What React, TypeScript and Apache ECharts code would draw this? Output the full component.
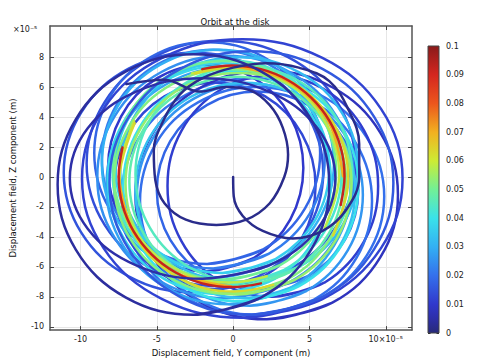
import React, { useEffect, useRef } from "react";
import * as echarts from "echarts";

// ---------- data ----------
const xTickValues = [-10, -5, 0, 5, 10];
const yTickValues = [-10, -8, -6, -4, -2, 0, 2, 4, 6, 8];

// orbit pieces: [Y, Z] in units of 1e-5 m
const blueLoop4 = [[1.6,-7.5],[4.9,-6.62],[7.32,-4.2],[8.2,-0.9],[7.32,2.4],[4.9,4.82],[1.6,5.7],[-1.7,4.82],[-4.12,2.4],[-5.0,-0.9],[-4.12,-4.2],[-1.7,-6.62],[1.6,-7.5],[4.9,-6.62]];
const blueLoop6 = [[1.3,-9.2],[5.6,-8.14],[8.75,-5.25],[9.9,-1.3],[8.75,2.65],[5.6,5.54],[1.3,6.6],[-3.0,5.54],[-6.15,2.65],[-7.3,-1.3],[-6.15,-5.25],[-3.0,-8.14],[1.3,-9.2],[5.6,-8.14]];
const blueLoop10 = [[-1.2,-7.5],[2.1,-6.58],[4.52,-4.05],[5.4,-0.6],[4.52,2.85],[2.1,5.38],[-1.2,6.3],[-4.5,5.38],[-6.92,2.85],[-7.8,-0.6],[-6.92,-4.05],[-4.5,-6.58],[-1.2,-7.5],[2.1,-6.58]];
const blueLoop5 = [[-0.8,-7.3],[3.6,-6.2],[6.82,-3.2],[8.0,0.9],[6.82,5.0],[3.6,8.0],[-0.8,9.1],[-5.2,8.0],[-8.42,5.0],[-9.6,0.9],[-8.42,-3.2],[-5.2,-6.2],[-0.8,-7.3],[3.6,-6.2]];
const blueLoop3 = [[-1.8,-6.3],[1.4,-5.38],[3.74,-2.85],[4.6,0.6],[3.74,4.05],[1.4,6.58],[-1.8,7.5],[-5.0,6.58],[-7.34,4.05],[-8.2,0.6],[-7.34,-2.85],[-5.0,-5.38],[-1.8,-6.3],[1.4,-5.38]];
const blueLoop7 = [[2.2,-9.5],[6.5,-8.39],[9.65,-5.35],[10.8,-1.2],[9.65,2.95],[6.5,5.99],[2.2,7.1],[-2.1,5.99],[-5.25,2.95],[-6.4,-1.2],[-5.25,-5.35],[-2.1,-8.39],[2.2,-9.5],[6.5,-8.39]];
const blueLoop8 = [[-2.6,-7.7],[1.65,-6.63],[4.76,-3.7],[5.9,0.3],[4.76,4.3],[1.65,7.23],[-2.6,8.3],[-6.85,7.23],[-9.96,4.3],[-11.1,0.3],[-9.96,-3.7],[-6.85,-6.63],[-2.6,-7.7],[1.65,-6.63]];
const blueLoop9 = [[2.6,-8.0],[6.05,-7.01],[8.58,-4.3],[9.5,-0.6],[8.58,3.1],[6.05,5.81],[2.6,6.8],[-0.85,5.81],[-3.38,3.1],[-4.3,-0.6],[-3.38,-4.3],[-0.85,-7.01],[2.6,-8.0],[6.05,-7.01]];
const bandLoopA = [[-1.7,-5.8],[2.0,-4.81],[4.71,-2.1],[5.7,1.6],[4.71,5.3],[2.0,8.01],[-1.7,9.0],[-5.4,8.01],[-8.11,5.3],[-9.1,1.6],[-8.11,-2.1],[-5.4,-4.81],[-1.7,-5.8],[2.0,-4.81]];
const bandLoopB = [[1.5,-9.2],[5.3,-8.18],[8.08,-5.4],[9.1,-1.6],[8.08,2.2],[5.3,4.98],[1.5,6.0],[-2.3,4.98],[-5.08,2.2],[-6.1,-1.6],[-5.08,-5.4],[-2.3,-8.18],[1.5,-9.2],[5.3,-8.18]];
const bandLoop1 = [[-1.3,-6.1],[2.35,-5.12],[5.02,-2.45],[6.0,1.2],[5.02,4.85],[2.35,7.52],[-1.3,8.5],[-4.95,7.52],[-7.62,4.85],[-8.6,1.2],[-7.62,-2.45],[-4.95,-5.12],[-1.3,-6.1],[2.35,-5.12]];
const bandLoopC5 = [[-0.5,-8.1],[3.7,-7.01],[6.77,-4.05],[7.9,0],[6.77,4.05],[3.7,7.01],[-0.5,8.1],[-4.7,7.01],[-7.77,4.05],[-8.9,0],[-7.77,-4.05],[-4.7,-7.01],[-0.5,-8.1],[3.7,-7.01]];
const bandLoop2 = [[1.1,-8.6],[4.8,-7.61],[7.51,-4.9],[8.5,-1.2],[7.51,2.5],[4.8,5.21],[1.1,6.2],[-2.6,5.21],[-5.31,2.5],[-6.3,-1.2],[-5.31,-4.9],[-2.6,-7.61],[1.1,-8.6],[4.8,-7.61]];
const bandLoopC1 = [[-0.3,-8.5],[3.7,-7.44],[6.63,-4.55],[7.7,-0.6],[6.63,3.35],[3.7,6.24],[-0.3,7.3],[-4.3,6.24],[-7.23,3.35],[-8.3,-0.6],[-7.23,-4.55],[-4.3,-7.44],[-0.3,-8.5],[3.7,-7.44]];
const bandLoop3 = [[-1.0,-6.7],[2.8,-5.68],[5.58,-2.9],[6.6,0.9],[5.58,4.7],[2.8,7.48],[-1.0,8.5],[-4.8,7.48],[-7.58,4.7],[-8.6,0.9],[-7.58,-2.9],[-4.8,-5.68],[-1.0,-6.7],[2.8,-5.68]];
const bandLoopC2 = [[0.4,-7.0],[4.3,-6.0],[7.15,-3.25],[8.2,0.5],[7.15,4.25],[4.3,7.0],[0.4,8.0],[-3.5,7.0],[-6.35,4.25],[-7.4,0.5],[-6.35,-3.25],[-3.5,-6.0],[0.4,-7.0],[4.3,-6.0]];
const bandLoop4 = [[0.8,-8.1],[4.4,-7.14],[7.04,-4.5],[8.0,-0.9],[7.04,2.7],[4.4,5.34],[0.8,6.3],[-2.8,5.34],[-5.44,2.7],[-6.4,-0.9],[-5.44,-4.5],[-2.8,-7.14],[0.8,-8.1],[4.4,-7.14]];
const bandLoop5 = [[-0.7,-6.4],[2.8,-5.46],[5.36,-2.9],[6.3,0.6],[5.36,4.1],[2.8,6.66],[-0.7,7.6],[-4.2,6.66],[-6.76,4.1],[-7.7,0.6],[-6.76,-2.9],[-4.2,-5.46],[-0.7,-6.4],[2.8,-5.46]];
const bandLoopC3 = [[-0.9,-7.8],[2.75,-6.78],[5.42,-4.0],[6.4,-0.2],[5.42,3.6],[2.75,6.38],[-0.9,7.4],[-4.55,6.38],[-7.22,3.6],[-8.2,-0.2],[-7.22,-4.0],[-4.55,-6.78],[-0.9,-7.8],[2.75,-6.78]];
const bandLoop6 = [[0.5,-8.3],[4.35,-7.27],[7.17,-4.45],[8.2,-0.6],[7.17,3.25],[4.35,6.07],[0.5,7.1],[-3.35,6.07],[-6.17,3.25],[-7.2,-0.6],[-6.17,-4.45],[-3.35,-7.27],[0.5,-8.3],[4.35,-7.27]];
const bandLoop7 = [[-0.4,-7.2],[3.35,-6.2],[6.1,-3.45],[7.1,0.3],[6.1,4.05],[3.35,6.8],[-0.4,7.8],[-4.15,6.8],[-6.9,4.05],[-7.9,0.3],[-6.9,-3.45],[-4.15,-6.2],[-0.4,-7.2],[3.35,-6.2]];
const bandLoopC4 = [[0.7,-7.0],[4.25,-6.04],[6.85,-3.4],[7.8,0.2],[6.85,3.8],[4.25,6.44],[0.7,7.4],[-2.85,6.44],[-5.45,3.8],[-6.4,0.2],[-5.45,-3.4],[-2.85,-6.04],[0.7,-7.0],[4.25,-6.04]];
const bandLoop8 = [[0.2,-7.3],[3.7,-6.36],[6.26,-3.8],[7.2,-0.3],[6.26,3.2],[3.7,5.76],[0.2,6.7],[-3.3,5.76],[-5.86,3.2],[-6.8,-0.3],[-5.86,-3.8],[-3.3,-6.36],[0.2,-7.3],[3.7,-6.36]];
const bandLoop9 = [[-0.55,-6.85],[3.1,-5.87],[5.77,-3.2],[6.75,0.45],[5.77,4.1],[3.1,6.77],[-0.55,7.75],[-4.2,6.77],[-6.87,4.1],[-7.85,0.45],[-6.87,-3.2],[-4.2,-5.87],[-0.55,-6.85],[3.1,-5.87]];
const bandLoopC6 = [[-0.2,-7.8],[3.6,-6.8],[6.38,-4.05],[7.4,-0.3],[6.38,3.45],[3.6,6.2],[-0.2,7.2],[-4.0,6.2],[-6.78,3.45],[-7.8,-0.3],[-6.78,-4.05],[-4.0,-6.8],[-0.2,-7.8],[3.6,-6.8]];
const bandLoop10 = [[0.35,-7.85],[4.05,-6.86],[6.76,-4.15],[7.75,-0.45],[6.76,3.25],[4.05,5.96],[0.35,6.95],[-3.35,5.96],[-6.06,3.25],[-7.05,-0.45],[-6.06,-4.15],[-3.35,-6.86],[0.35,-7.85],[4.05,-6.86]];
const arc11NE = [[5.99,-3.45],[6.95,0.15],[5.99,3.75],[3.35,6.39],[-0.25,7.35],[-2.71,6.92]];
const arc11SW = [[-6.49,3.75],[-7.45,0.15],[-6.49,-3.45],[-3.85,-6.09],[-0.25,-7.05],[2.21,-6.62]];
const arc12NE = [[6.55,-3.9],[7.55,-0.15],[6.55,3.6],[3.8,6.35],[0.05,7.35],[-2.52,6.9]];
const arc12SW = [[-6.45,3.6],[-7.45,-0.15],[-6.45,-3.9],[-3.7,-6.65],[0.05,-7.65],[2.62,-7.2]];
const arc13NE = [[7.2,0.05],[6.22,3.73],[3.53,6.42],[-0.15,7.4]];
const arc13SW = [[-7.5,0.05],[-6.52,-3.63],[-3.83,-6.32],[-0.15,-7.3]];
const redArcSW = [[-7.25,1.97],[-7.5,0.05],[-7.25,-1.87],[-6.51,-3.65],[-5.33,-5.18],[-3.8,-6.36],[-2.02,-7.1],[-0.1,-7.35],[1.82,-7.1]];
const redArcNE = [[7.05,-1.87],[7.3,0.05],[7.05,1.97],[6.31,3.75],[5.13,5.28],[3.6,6.46],[1.82,7.2],[-0.1,7.45],[-2.02,7.2]];
const blueLoop1 = [[0.6,-9.4],[5.85,-8.15],[9.69,-4.75],[11.1,-0.1],[9.69,4.55],[5.85,7.95],[0.6,9.2],[-4.65,7.95],[-8.49,4.55],[-9.9,-0.1],[-8.49,-4.75],[-4.65,-8.15],[0.6,-9.4],[5.85,-8.15]];
const blueLoop2 = [[1.2,-9.2],[5.85,-8.02],[9.25,-4.8],[10.5,-0.4],[9.25,4.0],[5.85,7.22],[1.2,8.4],[-3.45,7.22],[-6.85,4.0],[-8.1,-0.4],[-6.85,-4.8],[-3.45,-8.02],[1.2,-9.2],[5.85,-8.02]];
const navyLoopB = [[-2.0,-6.8],[2.35,-5.9],[5.53,-3.45],[6.7,-0.1],[5.53,3.25],[2.35,5.7],[-2.0,6.6],[-6.35,5.7],[-9.53,3.25],[-10.7,-0.1],[-9.53,-3.45],[-6.35,-5.9],[-2.0,-6.8],[2.35,-5.9]];
const navyLoopA = [[-2.6,-9.2],[1.85,-8.03],[5.11,-4.85],[6.3,-0.5],[5.11,3.85],[1.85,7.03],[-2.6,8.2],[-7.05,7.03],[-10.31,3.85],[-11.5,-0.5],[-10.31,-4.85],[-7.05,-8.03],[-2.6,-9.2],[1.85,-8.03]];
const startPath = [[0,0],[0.04,-1.3],[0.63,-2.6],[1.94,-3.6],[3.9,-4.1],[5.86,-3.6],[7.4,-2.2],[8.26,0],[8.26,2.2],[7.6,4.4],[6.3,6.4],[4.3,7.3],[2.2,7.6],[0,7.3],[-2.0,6.6],[-3.5,5.5],[-4.6,3.7],[-5.2,1.75],[-5.1,-0.2],[-4.5,-1.75],[-3.1,-2.85],[-1.1,-3.2],[0.85,-2.85],[2.4,-1.75],[3.35,0],[3.6,1.5],[3.25,3.3],[2.4,4.8],[1.07,5.8],[-0.46,6.0],[-2.2,5.7],[-4.5,6.5],[-7.0,6.2]];

const orbitPieces = [
  blueLoop4, blueLoop6, blueLoop10, blueLoop5, blueLoop3, blueLoop7, blueLoop8, blueLoop9,
  bandLoopA, bandLoopB, bandLoop1, bandLoopC5, bandLoop2, bandLoopC1, bandLoop3, bandLoopC2,
  bandLoop4, bandLoop5, bandLoopC3, bandLoop6, bandLoop7, bandLoopC4, bandLoop8, bandLoop9,
  bandLoopC6, bandLoop10,
  arc11NE, arc11SW, arc12NE, arc12SW, arc13NE, arc13SW,
  redArcSW, redArcNE,
  blueLoop1, blueLoop2,
  navyLoopB, navyLoopA, startPath,
];
const orbitValues = [
  0.018, 0.02, 0.013, 0.014, 0.01, 0.008, 0.015, 0.011,
  0.018, 0.02, 0.022, 0.025, 0.026, 0.028, 0.03, 0.032,
  0.033, 0.036, 0.038, 0.04, 0.043, 0.045, 0.047, 0.05,
  0.052, 0.054,
  0.058, 0.058, 0.063, 0.063, 0.07, 0.07,
  0.092, 0.092,
  0.012, 0.016,
  0.005, 0.004, 0.002,
];

// ---------- style ----------
const FONT = "DejaVu Sans";
const rainbowStops: [number, string][] = [
  [0.0, "#282a78"],
  [0.05, "#2d2fa8"],
  [0.1, "#3038cc"],
  [0.2, "#3470ec"],
  [0.3, "#33b0f4"],
  [0.4, "#3ae2ea"],
  [0.5, "#72f096"],
  [0.6, "#cdeb34"],
  [0.7, "#f2b020"],
  [0.8, "#ec561c"],
  [0.9, "#d4261f"],
  [1.0, "#8a1a1a"],
];

function hexToRgb(h: string) {
  const n = parseInt(h.slice(1), 16);
  return [(n >> 16) & 255, (n >> 8) & 255, n & 255];
}
function colorAt(v: number) {
  const t = Math.max(0, Math.min(1, v / 0.1));
  for (let i = 0; i < rainbowStops.length - 1; i++) {
    const [t0, c0] = rainbowStops[i];
    const [t1, c1] = rainbowStops[i + 1];
    if (t >= t0 && t <= t1) {
      const f = (t - t0) / (t1 - t0);
      const a = hexToRgb(c0);
      const b = hexToRgb(c1);
      const r = a.map((x, k) => Math.round(x + (b[k] - x) * f));
      return `rgb(${r[0]},${r[1]},${r[2]})`;
    }
  }
  return rainbowStops[rainbowStops.length - 1][1];
}

export default function App() {
  const ref = useRef<HTMLDivElement>(null);
  useEffect(() => {
    if (!ref.current) return;
    const chart = echarts.init(ref.current, undefined, { renderer: "svg" });
    const tickLabel = { fontSize: 8, color: "#222", fontFamily: FONT };
    const frame = { show: true, onZero: false, lineStyle: { color: "#555", width: 1.5 } };
    const orbitSeries = orbitPieces.map((pts, i) => ({
      type: "line",
      xAxisIndex: 0,
      yAxisIndex: 0,
      data: pts,
      smooth: 0.38,
      showSymbol: false,
      symbol: "none",
      silent: true,
      lineStyle: { color: colorAt(orbitValues[i]), width: 2.5, cap: "round" },
    }));
    chart.setOption({
      animation: false,
      backgroundColor: "#fff",
      title: {
        text: "Orbit at the disk",
        left: 230,
        top: 12.5,
        textAlign: "center",
        textStyle: { fontSize: 8.5, fontWeight: "normal", color: "#111", fontFamily: FONT },
      },
      grid: [
        { left: 49, top: 26, width: 363, height: 309 },
        { left: 428, top: 46, width: 11, height: 287 },
      ],
      xAxis: [
        {
          type: "value", gridIndex: 0, min: -12, max: 11.72, position: "bottom",
          axisLine: frame,
          axisTick: { show: true, inside: true, length: 4, customValues: xTickValues, lineStyle: { color: "#444" } },
          axisLabel: { ...tickLabel, customValues: xTickValues, margin: 5, formatter: (v: number) => (v === 10 ? "10×10⁻⁵" : String(v)) },
          splitLine: { show: true, lineStyle: { color: "#e6e6e6", width: 1 } },
          name: "Displacement field, Y component (m)",
          nameLocation: "middle", nameGap: 12,
          nameTextStyle: { fontSize: 8.5, color: "#111", fontFamily: FONT },
        },
        {
          type: "value", gridIndex: 0, min: -12, max: 11.72, position: "top",
          axisLine: frame,
          axisTick: { show: true, inside: true, length: 4, customValues: xTickValues, lineStyle: { color: "#444" } },
          axisLabel: { show: false },
          splitLine: { show: false },
        },
        { type: "category", gridIndex: 1, data: ["c"], show: false },
      ],
      yAxis: [
        {
          type: "value", gridIndex: 0, min: -10.22, max: 10.08, position: "left",
          axisLine: frame,
          axisTick: { show: true, inside: true, length: 4, customValues: yTickValues, lineStyle: { color: "#444" } },
          axisLabel: { ...tickLabel, customValues: yTickValues, margin: 6 },
          splitLine: { show: true, lineStyle: { color: "#e6e6e6", width: 1 } },
          name: "Displacement field, Z component (m)",
          nameLocation: "middle", nameGap: 33,
          nameTextStyle: { fontSize: 8.5, color: "#111", fontFamily: FONT },
        },
        {
          type: "value", gridIndex: 0, min: -10.22, max: 10.08, position: "right",
          axisLine: frame,
          axisTick: { show: true, inside: true, length: 4, customValues: yTickValues, lineStyle: { color: "#444" } },
          axisLabel: { show: false },
          splitLine: { show: false },
        },
        {
          type: "value", gridIndex: 1, min: 0, max: 0.1, interval: 0.01, position: "right",
          axisLine: { show: false },
          axisTick: { show: true, inside: true, length: 2.5, lineStyle: { color: "#222" } },
          axisLabel: { ...tickLabel, margin: 7, formatter: (v: number) => String(+v.toFixed(2)) },
          splitLine: { show: false },
        },
        {
          type: "value", gridIndex: 1, min: 0, max: 0.1, interval: 0.01, position: "left",
          axisLine: { show: false },
          axisTick: { show: true, inside: true, length: 2.5, lineStyle: { color: "#222" } },
          axisLabel: { show: false },
          splitLine: { show: false },
        },
      ],
      graphic: [
        {
          type: "text", left: 13, top: 25, z: 10,
          style: { text: "×10⁻⁵", fontSize: 8, fill: "#222", fontFamily: FONT },
        },
        {
          type: "rect", z: 100, silent: true,
          shape: { x: 428, y: 46, width: 11, height: 287 },
          style: { fill: "none", stroke: "#444", lineWidth: 1 },
        },
      ],
      series: [
        ...orbitSeries,
        {
          type: "bar",
          xAxisIndex: 2,
          yAxisIndex: 2,
          data: [0.1],
          barWidth: "100%",
          silent: true,
          z: 1,
          itemStyle: {
            color: new echarts.graphic.LinearGradient(0, 1, 0, 0,
              rainbowStops.map(([o, c]) => ({ offset: o, color: c }))),
          },
        },
      ],
    });
    return () => chart.dispose();
  }, []);
  return (
    <div
      ref={ref}
      style={{ position: "fixed", left: 0, top: 0, width: 482, height: 362 }}
    />
  );
}
